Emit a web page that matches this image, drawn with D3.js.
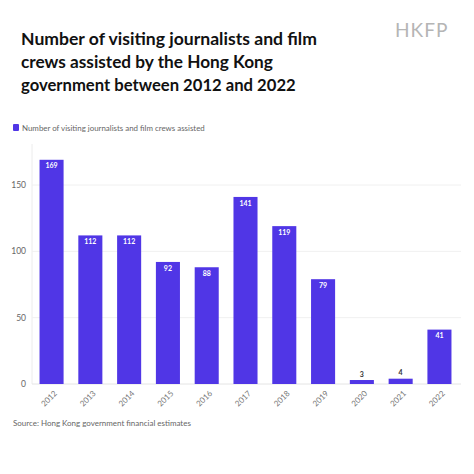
<!DOCTYPE html>
<html>
<head>
<meta charset="utf-8">
<script src="https://cdn.jsdelivr.net/npm/d3@7"></script>
<style>
  html, body { margin: 0; padding: 0; background: #fff; }
  svg { display: block; font-family: "Lato", "Open Sans", sans-serif; }
</style>
</head>
<body>
<svg id="chart"></svg>
<script>
// Visiting journalists / film crews assisted, HK gov, 2012-2022

const width = 474;
const height = 474;

const years = ["2012", "2013", "2014", "2015", "2016", "2017", "2018", "2019", "2020", "2021", "2022"];
const assisted = [169, 112, 112, 92, 88, 141, 119, 79, 3, 4, 41];
const yTicks = [0, 50, 100, 150];

const titleLines = [
  "Number of visiting journalists and film",
  "crews assisted by the Hong Kong",
  "government between 2012 and 2022",
];
const legendLabel = "Number of visiting journalists and film crews assisted";
const sourceLabel = "Source: Hong Kong government financial estimates";

const barColor = "#5036e6";

const svg = d3.select("#chart").attr("width", width).attr("height", height);

// scale a text's font size so it spans the target width
function fitWidth(sel, base, target) {
  sel.attr("font-size", base);
  const w = sel.node().getComputedTextLength();
  sel.attr("font-size", (base * target) / w);
}

// ----- title -----
const titleBase = [45, 67.7, 90.5];
const titleWidths = [296, 252, 275];
titleLines.forEach((line, i) => {
  const t = svg
    .append("text")
    .attr("x", 21)
    .attr("y", titleBase[i])
    .attr("font-weight", 700)
    .attr("fill", "#111")
    .text(line);
  fitWidth(t, 17, titleWidths[i]);
});

// HKFP mark
const logo = svg
  .append("text")
  .attr("x", 395)
  .attr("y", 36.7)
  .attr("fill", "#b5b5b5")
  .attr("font-weight", 400)
  .attr("letter-spacing", 1)
  .text("HKFP");
fitWidth(logo, 17, 54);

// ----- legend -----
svg
  .append("rect")
  .attr("x", 13)
  .attr("y", 124)
  .attr("width", 6)
  .attr("height", 7)
  .attr("rx", 1)
  .attr("fill", barColor);

const legendText = svg
  .append("text")
  .attr("x", 22)
  .attr("y", 130.5)
  .attr("fill", "#666")
  .text(legendLabel);
fitWidth(legendText, 8, 183);

// ----- scales -----
const x = d3.scaleBand().domain(years).range([31, 460]).paddingInner(0.38).paddingOuter(0.22);

const y = d3.scaleLinear().domain([0, 150]).range([384, 185]);

const plot = svg.append("g");

// y axis line
plot
  .append("line")
  .attr("x1", 32)
  .attr("x2", 32)
  .attr("y1", 144)
  .attr("y2", 384)
  .attr("stroke", "#ececec");

// grid
plot
  .selectAll(".grid")
  .data(yTicks)
  .join("line")
  .attr("class", "grid")
  .attr("x1", 32)
  .attr("x2", 461)
  .attr("y1", (d) => y(d))
  .attr("y2", (d) => y(d))
  .attr("stroke", (d) => (d === 0 ? "#e4e4e4" : "#f0f0f0"));

// y tick labels
plot
  .selectAll(".ytick")
  .data(yTicks)
  .join("text")
  .attr("class", "ytick")
  .attr("x", 26)
  .attr("y", (d) => y(d))
  .attr("dy", "0.35em")
  .attr("text-anchor", "end")
  .attr("font-size", 8.5)
  .attr("fill", "#666")
  .text((d) => d);

// bars
const data = years.map((yr, i) => ({ year: yr, value: assisted[i] }));

plot
  .selectAll(".bar")
  .data(data)
  .join("rect")
  .attr("class", "bar")
  .attr("x", (d) => x(d.year))
  .attr("width", x.bandwidth())
  .attr("y", (d) => y(d.value))
  .attr("height", (d) => y(0) - y(d.value))
  .attr("fill", barColor);

// value labels: inside for tall bars, above for tiny ones
plot
  .selectAll(".val")
  .data(data)
  .join("text")
  .attr("class", "val")
  .attr("x", (d) => x(d.year) + x.bandwidth() / 2)
  .attr("y", (d) => (d.value < 10 ? y(d.value) - 3.5 : y(d.value) + 8.7))
  .attr("text-anchor", "middle")
  .attr("font-size", 7)
  .attr("font-weight", 700)
  .attr("fill", (d) => (d.value < 10 ? "#333" : "#fff"))
  .text((d) => d.value);

// x tick labels, rotated
plot
  .selectAll(".xtick")
  .data(years)
  .join("text")
  .attr("class", "xtick")
  .attr("transform", (d) => `translate(${x(d) + x.bandwidth() / 2 + 4},${392}) rotate(-45)`)
  .attr("text-anchor", "end")
  .attr("dy", "0.35em")
  .attr("font-size", 8)
  .attr("fill", "#777")
  .text((d) => d);

// source
const src = svg
  .append("text")
  .attr("x", 13)
  .attr("y", 426)
  .attr("fill", "#666")
  .text(sourceLabel);
fitWidth(src, 8.5, 178);
</script>
</body>
</html>
